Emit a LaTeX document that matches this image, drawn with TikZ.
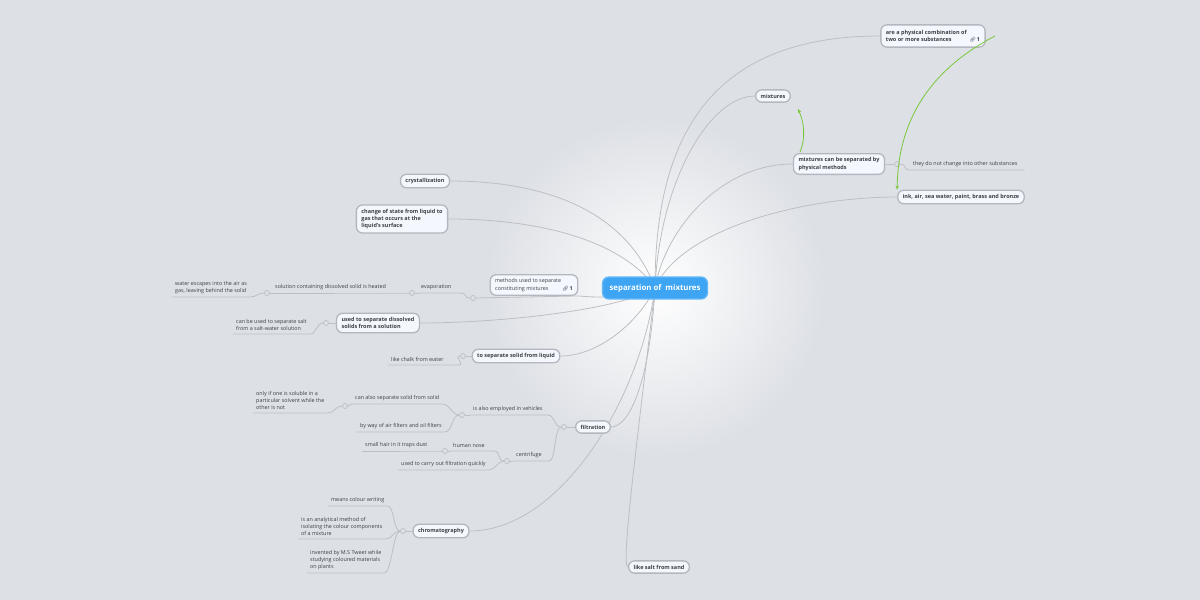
\documentclass[tikz,border=0pt]{standalone}
\usepackage{fontspec}
\setmainfont{Open Sans}
\newfontfamily\emo{Noto Emoji}
\usetikzlibrary{backgrounds,arrows.meta}
\definecolor{bgc}{HTML}{DDE0E5}
\definecolor{boxfill}{HTML}{F4F8FE}
\definecolor{boxline}{HTML}{B4B8BE}
\definecolor{edgec}{HTML}{BDBFC3}
\definecolor{txt}{HTML}{3C3F44}
\definecolor{rootc}{HTML}{3DA5F4}
\definecolor{greenc}{HTML}{78C83C}
\tikzset{
 box/.style={draw=boxline,line width=1.3pt,fill=boxfill,rounded corners=6pt,font=\fontsize{5.5}{7.2}\selectfont\bfseries,text=txt,align=left,inner xsep=5pt,inner ysep=4pt},
 lab/.style={font=\fontsize{5.4}{7.2}\selectfont,text=txt,align=left,inner xsep=3pt,inner ysep=3pt,anchor=south west},
 knot/.style={circle,draw=edgec,fill=bgc,line width=0.7pt,minimum size=5pt,inner sep=0pt},
 edge/.style={draw=edgec,line width=0.8pt},
 garrow/.style={draw=greenc,line width=0.8pt,-{Stealth[length=4pt,width=3.5pt]}}
}
\newcommand{\ul}[2]{\draw[edge] (#1.west) .. controls +(-7,0) and +(7,0) .. (#2.south east) -- (#2.south west);}
\begin{document}
\begin{tikzpicture}[x=1pt,y=-1pt]
\useasboundingbox (0,0) rectangle (1200,600);
\node[box,fill=rootc,draw=rootc!80!white,text=white,font=\fontsize{7.8}{9}\selectfont\bfseries,inner xsep=7pt,inner ysep=7pt] (root) at (655,288) {separation of\ \ mixtures};
\node[box,inner ysep=5pt] (comb) at (933,36) {are a physical combination of\\two or more substances\hspace{18pt}{\emo\fontsize{5}{6}\selectfont 🔗}\,1};
\node[box] (mix) at (773,96) {mixtures};
\node[box] (sep) at (839,164) {mixtures can be separated by\\physical methods};
\node[box] (ink) at (961,197) {ink, air, sea water, paint, brass and bronze};
\node[box] (cry) at (425,181) {crystallization};
\node[box] (cos) at (402,219) {change of state from liquid to\\gas that occurs at the\\liquid's surface};
\node[box,font=\fontsize{5.4}{7.2}\selectfont] (meth) at (534,285) {methods used to separate\\constituting mixtures\hspace{14pt}{\emo\fontsize{5}{6}\selectfont 🔗}\,\textbf{1}};
\node[box] (dis) at (378,323) {used to separate dissolved\\solids from a solution};
\node[box] (sfl) at (516,356) {to separate solid from liquid};
\node[box] (fil) at (593,427) {filtration};
\node[box] (chr) at (441,531) {chromatography};
\node[box] (sand) at (659,567) {like salt from sand};
\node[knot] (k1) at (897,164) {};
\node[knot] (k2) at (473,298) {};
\node[knot] (k3) at (412,293) {};
\node[knot] (k4) at (267,293) {};
\node[knot] (k5) at (326,323) {};
\node[knot] (k6) at (463,356) {};
\node[knot] (k7) at (564,427) {};
\node[knot] (k8) at (462,415) {};
\node[knot] (k9) at (345,406) {};
\node[knot] (k10) at (507,461) {};
\node[knot] (k11) at (445,451) {};
\node[knot] (k12) at (403,531) {};
\node[lab] (l1) at (910,170) {they do not change into other substances\hspace{4pt}};
\node[lab] (l2) at (418,293) {evaporation\hspace{6pt}};
\node[lab] (l3) at (272,293) {solution containing dissolved solid is heated\hspace{6pt}};
\node[lab] (l4) at (172,297) {water escapes into the air as\\gas, leaving behind the solid};
\node[lab] (l5) at (233,334) {can be used to separate salt\\from a salt-water solution};
\node[lab] (l6) at (388,365) {like chalk from water\hspace{12pt}};
\node[lab] (l7) at (470,415) {is also employed in vehicles\hspace{2pt}};
\node[lab] (l8) at (352,404) {can also separate solid from solid};
\node[lab] (l9) at (253,413) {only if one is soluble in a\\particular solvent while the\\other is not\hspace{30pt}};
\node[lab] (l10) at (357,432) {by way of air filters and oil filters};
\node[lab] (l11) at (513,461) {centrifuge\hspace{4pt}};
\node[lab] (l12) at (450,451) {human nose\hspace{6pt}};
\node[lab] (l13) at (362,451) {small hair in it traps dust\hspace{8pt}};
\node[lab] (l14) at (398,470) {used to carry out filtration quickly};
\node[lab] (l15) at (328,506) {means colour writing};
\node[lab] (l16) at (298,539) {is an analytical method of\\isolating the colour components\\of a mixture};
\node[lab] (l17) at (307,573) {invented by M.S Tweet while\\studying coloured materials\\on plants\hspace{40pt}};
\begin{pgfonlayer}{background}
\fill[bgc] (0,0) rectangle (1200,600);
\shade[inner color=white,outer color=bgc] (655,288) circle (170);
\draw[edge] (root.center) .. controls (655,150) and (700,36) .. (comb.west);
\draw[edge] (root.center) .. controls (660,180) and (710,96) .. (mix.west);
\draw[edge] (root.center) .. controls (665,230) and (720,164) .. (sep.west);
\draw[edge] (root.center) .. controls (680,230) and (800,197) .. (ink.west);
\draw[edge] (root.center) .. controls (630,220) and (560,181) .. (cry.east);
\draw[edge] (root.center) .. controls (630,250) and (560,219) .. (cos.east);
\draw[edge] (root.center) .. controls (630,298) and (600,298) .. (meth.south east) -- (k2.east);
\draw[edge] (root.center) .. controls (620,310) and (500,323) .. (dis.east);
\draw[edge] (root.center) .. controls (640,320) and (600,356) .. (sfl.east);
\draw[edge] (root.center) .. controls (650,380) and (630,427) .. (fil.east);
\draw[edge] (root.center) .. controls (640,400) and (560,531) .. (chr.east);
\draw[edge] (root.center) .. controls (640,420) and (620,567) .. (sand.west);
\draw[edge] (sep.east) -- (k1.west);
\draw[edge] (k1.east) .. controls +(7,0) and +(-7,0) .. (l1.south west) -- (l1.south east);
\ul{k2}{l2}
\draw[edge] (l2.south west) -- (k3.east);
\ul{k3}{l3}
\draw[edge] (l3.south west) -- (k4.east);
\ul{k4}{l4}
\draw[edge] (dis.west) -- (k5.east);
\ul{k5}{l5}
\draw[edge] (sfl.west) -- (k6.east);
\ul{k6}{l6}
\draw[edge] (fil.west) -- (k7.east);
\ul{k7}{l7}
\ul{k7}{l11}
\draw[edge] (l7.south west) -- (k8.east);
\ul{k8}{l8}
\ul{k8}{l10}
\draw[edge] (l8.south west) -- (k9.east);
\ul{k9}{l9}
\ul{k10}{l14}
\draw[edge] (l11.south west) -- (k10.east);
\ul{k10}{l12}
\draw[edge] (l12.south west) -- (k11.east);
\ul{k11}{l13}
\draw[edge] (chr.west) -- (k12.east);
\ul{k12}{l15}
\ul{k12}{l16}
\ul{k12}{l17}
\end{pgfonlayer}
\coordinate (ga) at (800,152);
\coordinate (gb) at (798,109);
\coordinate (gc) at (995,36);
\draw[garrow] (ga) .. controls (806,138) and (804,122) .. (gb);
\draw[garrow] (gc) .. controls (930,70) and (898,120) .. (ink.north west);
\end{tikzpicture}
\end{document}
